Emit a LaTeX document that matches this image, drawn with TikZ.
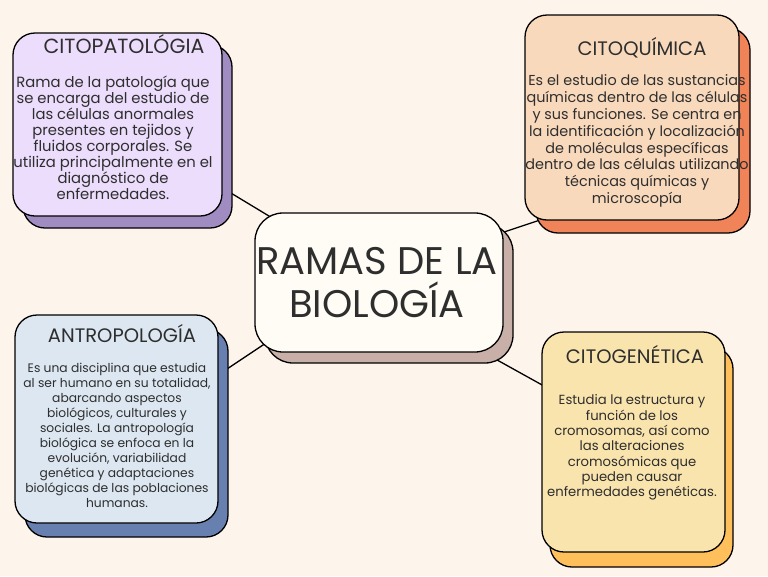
\documentclass[tikz,border=0pt]{standalone}
\usepackage{fontspec}
\setmainfont{Poppins}
\usetikzlibrary{shadows,backgrounds,positioning}

\definecolor{fondo}{HTML}{FDF4EC}
\definecolor{texto}{HTML}{2E2E2E}
\definecolor{lilaclaro}{HTML}{EBDDFB}
\definecolor{lilaosc}{HTML}{A08CC0}
\definecolor{melocoton}{HTML}{F9D9BC}
\definecolor{naranja}{HTML}{F08458}
\definecolor{celeste}{HTML}{DCE7F1}
\definecolor{azulosc}{HTML}{6880B0}
\definecolor{vainilla}{HTML}{F9E4AE}
\definecolor{ambar}{HTML}{FFBF5B}
\definecolor{marfil}{HTML}{FFFCF6}
\definecolor{rosaosc}{HTML}{C8AFA7}

\begin{document}
\begin{tikzpicture}[x=1pt,y=-1pt]
	\tikzset{rama/.style={draw=black, line width=1.3pt, rounded corners=22pt, inner sep=0pt},
		sombra/.style n args={3}{drop shadow={shadow xshift=#1pt, shadow yshift=-#2pt, fill=#3, draw=black, line width=1.3pt, opacity=1}},
		titulo/.style={text=texto, inner sep=0pt, font=\fontsize{19.5}{22}\selectfont},
		cuerpo/.style={text=texto, inner sep=0pt, align=center}}
	
	% Fondo
	\useasboundingbox (0,0) rectangle (768,576);
	
	% Nodo central
	\node[rama, sombra={10}{11}{rosaosc}, fill=marfil, minimum width=248pt, minimum height=139pt, rounded corners=28pt] (ramas) at (379,282.5) {};
	\node[text=texto, align=center, font=\fontsize{38.5}{43}\selectfont] (tramas) at (377,283) {RAMAS DE LA\\BIOLOGÍA};
	
	% Citopatologia
	\node[rama, sombra={10}{12}{lilaosc}, fill=lilaclaro, minimum width=209pt, minimum height=183pt] (citopat) at (117.5,124.5) {};
	\node[titulo, font=\fontsize{20.5}{22}\selectfont] (tcitopat) at (124,44) {CITOPATOLÓGIA};
	\node[cuerpo, font=\fontsize{14.8}{16}\selectfont] (bcitopat) at (113,137.5) {Rama de la patología que\\se encarga del estudio de\\las células anormales\\presentes en tejidos y\\fluidos corporales. Se\\utiliza principalmente en el\\diagnóstico de\\enfermedades.};
	
	% Citoquimica
	\node[rama, sombra={11}{13}{naranja}, fill=melocoton, minimum width=214pt, minimum height=205pt] (citoq) at (632,117.5) {};
	\node[titulo] (tcitoq) at (642,48) {CITOQUÍMICA};
	\node[cuerpo, font=\fontsize{14.4}{16.9}\selectfont] (bcitoq) at (637,141) {Es el estudio de las sustancias\\químicas dentro de las células\\y sus funciones. Se centra en\\la identificación y localización\\de moléculas específicas\\dentro de las células utilizando\\técnicas químicas y\\microscopía};
	
	% Antropologia
	\node[rama, sombra={10}{14}{azulosc}, fill=celeste, minimum width=203pt, minimum height=208pt] (antrop) at (116.5,419) {};
	\node[titulo] (tantrop) at (122,334) {ANTROPOLOGÍA};
	\node[cuerpo, font=\fontsize{12.3}{15}\selectfont] (bantrop) at (117,435.5) {Es una disciplina que estudia\\al ser humano en su totalidad,\\abarcando aspectos\\biológicos, culturales y\\sociales. La antropología\\biológica se enfoca en la\\evolución, variabilidad\\genética y adaptaciones\\biológicas de las poblaciones\\humanas.};
	
	% Citogenetica
	\node[rama, sombra={8}{15}{ambar}, fill=vainilla, minimum width=183pt, minimum height=220pt] (citogen) at (633.5,442) {};
	\node[titulo] (tcitogen) at (635,355) {CITOGENÉTICA};
	\node[cuerpo, font=\fontsize{13.2}{15.3}\selectfont] (bcitogen) at (632,447.5) {Estudia la estructura y\\función de los\\cromosomas, así como\\las alteraciones\\cromosómicas que\\pueden causar\\enfermedades genéticas.};
	
	% Conectores (detras de las cajas)
	\begin{scope}[on background layer]
		\fill[fondo] (0,0) rectangle (768,576);
		\draw[line width=1.3pt] (ramas.center) -- (citopat.center);
		\draw[line width=1.3pt] ([xshift=81pt,yshift=35.8pt]ramas.center) -- ([xshift=-32pt,yshift=-82.5pt]citoq.center);
		\draw[line width=1.3pt] ([xshift=-79pt,yshift=-37.8pt]ramas.center) -- ([xshift=33.5pt,yshift=-1.3pt]antrop.center);
		\draw[line width=1.3pt] ([xshift=81pt,yshift=-56.9pt]ramas.center) -- ([xshift=-53.5pt,yshift=36pt]citogen.center);
	\end{scope}
	
\end{tikzpicture}
\end{document}
